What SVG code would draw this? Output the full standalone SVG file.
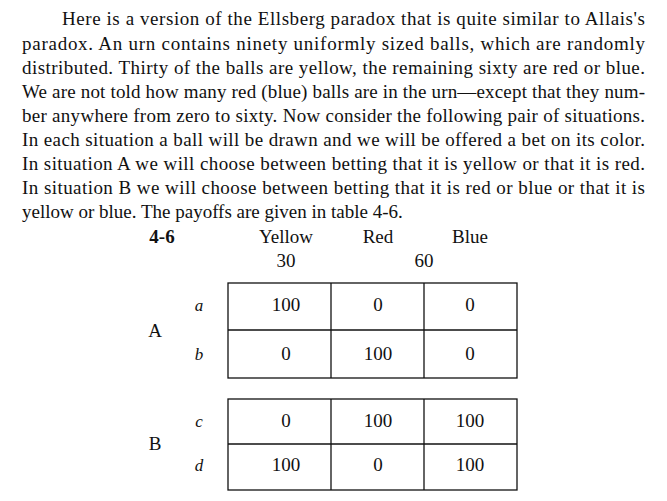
<svg xmlns="http://www.w3.org/2000/svg" width="667" height="501" viewBox="0 0 667 501">
<style>
text{font-family:"Liberation Serif","Times New Roman",serif;font-size:19px;fill:#111}
.c{text-anchor:middle}
.i{font-style:italic;font-size:17px}
.b{font-weight:bold}
.box{fill:none;stroke:#111;stroke-width:1.3}
</style>
<rect width="667" height="501" fill="#fff"/>
<g id="paragraph">
<text x="62" y="25" textLength="583" lengthAdjust="spacing">Here is a version of the Ellsberg paradox that is quite similar to Allais's</text>
<text x="22" y="50" textLength="623" lengthAdjust="spacing">paradox. An urn contains ninety uniformly sized balls, which are randomly</text>
<text x="22" y="74" textLength="623" lengthAdjust="spacing">distributed. Thirty of the balls are yellow, the remaining sixty are red or blue.</text>
<text x="22" y="98" textLength="623" lengthAdjust="spacing">We are not told how many red (blue) balls are in the urn—except that they num-</text>
<text x="22" y="122" textLength="623" lengthAdjust="spacing">ber anywhere from zero to sixty. Now consider the following pair of situations.</text>
<text x="22" y="146" textLength="623" lengthAdjust="spacing">In each situation a ball will be drawn and we will be offered a bet on its color.</text>
<text x="22" y="170" textLength="623" lengthAdjust="spacing">In situation A we will choose between betting that it is yellow or that it is red.</text>
<text x="22" y="194" textLength="623" lengthAdjust="spacing">In situation B we will choose between betting that it is red or blue or that it is</text>
<text x="22" y="218">yellow or blue. The payoffs are given in table 4-6.</text>
</g>
<g id="header">
<text x="162" y="243" class="c b">4-6</text>
<text x="286" y="243" class="c">Yellow</text>
<text x="378" y="243" class="c">Red</text>
<text x="470" y="243" class="c">Blue</text>
<text x="286" y="267" class="c">30</text>
<text x="424" y="267" class="c">60</text>
</g>
<g id="tableA">
<rect class="box" x="228" y="283" width="289" height="95"/>
<line class="box" x1="228" y1="330" x2="517" y2="330"/>
<line class="box" x1="331" y1="283" x2="331" y2="378"/>
<line class="box" x1="424" y1="283" x2="424" y2="378"/>
<text x="199" y="311" class="c i">a</text>
<text x="199" y="360" class="c i">b</text>
<text x="155" y="337" class="c">A</text>
<text x="286" y="311" class="c">100</text><text x="378" y="311" class="c">0</text><text x="470" y="311" class="c">0</text>
<text x="286" y="360" class="c">0</text><text x="378" y="360" class="c">100</text><text x="470" y="360" class="c">0</text>
</g>
<g id="tableB">
<rect class="box" x="228" y="399" width="289" height="91"/>
<line class="box" x1="228" y1="444" x2="517" y2="444"/>
<line class="box" x1="331" y1="399" x2="331" y2="490"/>
<line class="box" x1="424" y1="399" x2="424" y2="490"/>
<text x="199" y="427" class="c i">c</text>
<text x="199" y="471" class="c i">d</text>
<text x="155" y="450" class="c">B</text>
<text x="286" y="427" class="c">0</text><text x="378" y="427" class="c">100</text><text x="470" y="427" class="c">100</text>
<text x="286" y="471" class="c">100</text><text x="378" y="471" class="c">0</text><text x="470" y="471" class="c">100</text>
</g>
</svg>
